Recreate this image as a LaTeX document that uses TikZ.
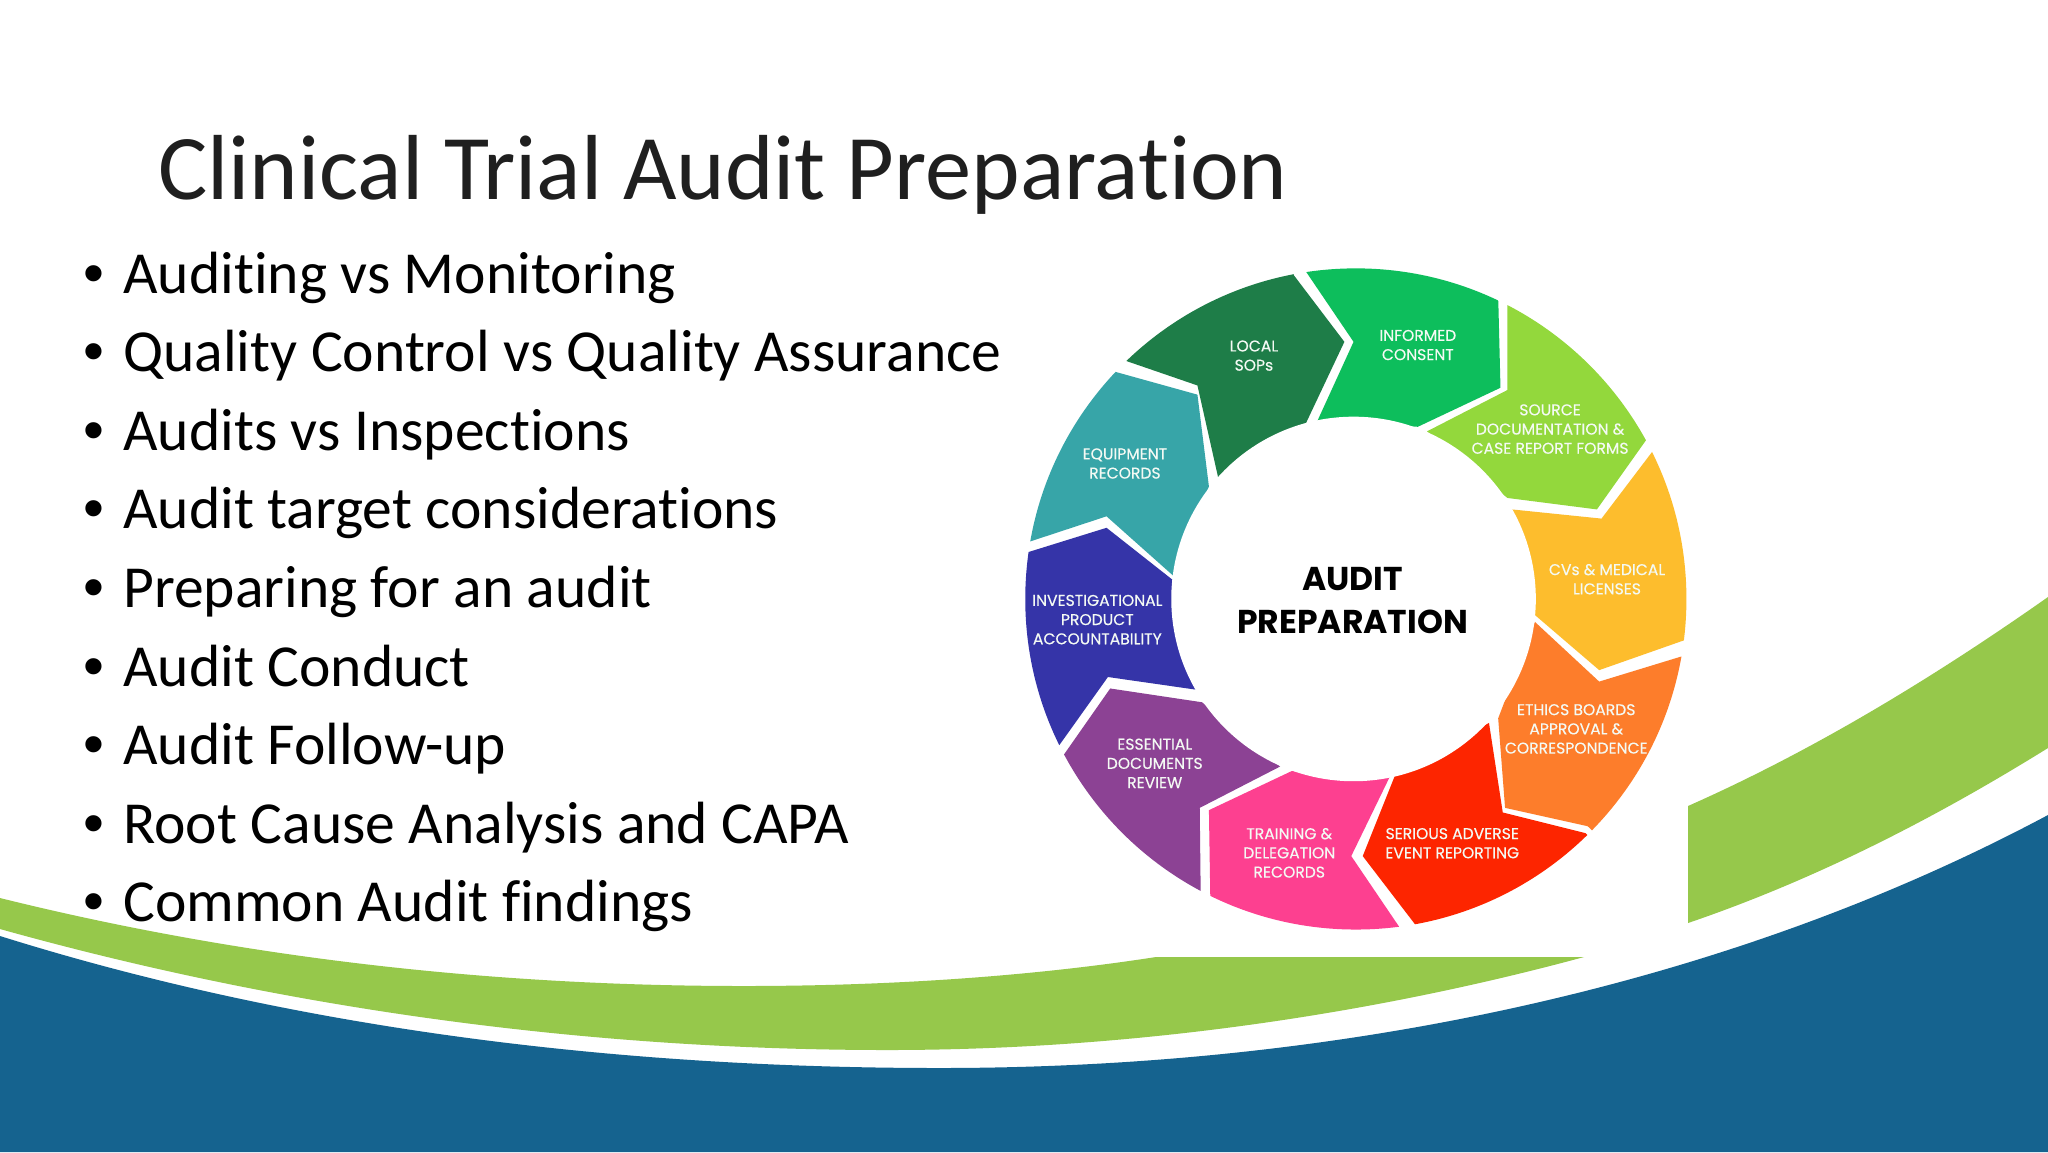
\documentclass[tikz,border=0pt]{standalone}
\usepackage{fontspec}
\setmainfont[Ligatures=NoCommon]{Carlito}
\newfontfamily\ringfont[FakeBold=0.35]{Poppins}
\newfontfamily\hubfont{Poppins}
\newfontfamily\dotfont{Liberation Sans}
\usetikzlibrary{calc}
\definecolor{swblue}{HTML}{15638F}
\definecolor{swgreen}{HTML}{96C84B}
\definecolor{ringtxt}{HTML}{F4FAF4}
\definecolor{c1}{HTML}{0DBE5C}\definecolor{c2}{HTML}{93D83C}\definecolor{c3}{HTML}{FDBD2D}
\definecolor{c4}{HTML}{FD7D2B}\definecolor{c5}{HTML}{FD2500}\definecolor{c6}{HTML}{FD4090}
\definecolor{c7}{HTML}{8C4294}\definecolor{c8}{HTML}{3534A8}\definecolor{c9}{HTML}{37A5A8}
\definecolor{c10}{HTML}{1E7D48}
\tikzset{
  titletext/.style={anchor=base west,inner sep=0pt,font=\fontsize{46.2}{50}\selectfont,text=black!88},
  bullettext/.style={anchor=base west,inner sep=0pt,font=\fontsize{29.8}{32}\selectfont,text=black},
  ringlabel/.style={align=center,inner sep=0pt,text=ringtxt,font=\ringfont\fontsize{7.8}{9.6}\selectfont},
  hublabel/.style={align=center,inner sep=0pt,text=black,font=\hubfont\bfseries\fontsize{16.5}{21.6}\selectfont},
  segment/.style={line join=miter}
}
\newcommand{\bulletline}[3]{\node[bullettext] (#1) at (123,#2) {\llap{{\dotfont •}\hspace{9.3pt}}#3};}
\newcommand{\seg}[7]{\fill[#1,segment] #2 -- #3 -- #4 -- #5 -- #6 -- #7 -- ($(hubo)!1.7!#7$) -- ($(hubo)!1.7!#2$) -- cycle;}
\begin{document}
\begin{tikzpicture}[x=0.5pt,y=-0.5pt]
\useasboundingbox (0,0) rectangle (2048,1152);
\fill[white] (0,0) rectangle (2048,1152);
% blue base
\fill[swblue] (0,936) .. controls (300,1030) and (620,1068) .. (940,1068)
  .. controls (1330,1068) and (1720,990) .. (2048,815) -- (2048,1152) -- (0,1152) -- cycle;
% green swoosh, left part
\fill[swgreen] (0,898) .. controls (250,960) and (500,986) .. (744,986)
  .. controls (900,986) and (1040,975) .. (1156,957) -- (1584,957)
  .. controls (1370,1015) and (1130,1050) .. (888,1050)
  .. controls (590,1050) and (290,1010) .. (0,929) -- cycle;
% green swoosh, right part
\fill[swgreen] (1688,806) .. controls (1810,752) and (1930,680) .. (2048,597) -- (2048,748)
  .. controls (1940,815) and (1820,878) .. (1688,923) -- cycle;
% text
\node[titletext] (title) at (158,199) {Clinical Trial Audit Preparation};
\bulletline{b1}{293}{Auditing vs Monitoring}
\bulletline{b2}{371.6}{Quality Control vs Quality Assurance}
\bulletline{b3}{450.2}{Audits vs Inspections}
\bulletline{b4}{528.8}{Audit target considerations}
\bulletline{b5}{607.4}{Preparing for an audit}
\bulletline{b6}{686}{Audit Conduct}
\bulletline{b7}{764.6}{Audit Follow-up}
\bulletline{b8}{843.2}{Root Cause Analysis and CAPA}
\bulletline{b9}{921.8}{Common Audit findings}
% ring
\begin{scope}[shift={(1000,250)},x=0.22957pt,y=-0.22957pt]
\coordinate (hubo) at (775,760);
\coordinate (hubc) at (770,760);
\begin{scope}
\clip (hubo) circle[radius=720];
\seg{c1}{(665,45)}{(770,200)}{(690,375)}{(910,385)}{(1090,300)}{(1085,100)}
\seg{c2}{(1105,120)}{(1105,305)}{(930,395)}{(1105,540)}{(1300,565)}{(1410,410)}
\seg{c3}{(1420,440)}{(1310,585)}{(1115,565)}{(1165,795)}{(1305,915)}{(1490,850)}
\seg{c4}{(1485,885)}{(1305,940)}{(1165,810)}{(1085,1020)}{(1100,1215)}{(1280,1255)}
\seg{c5}{(1275,1270)}{(1095,1225)}{(1065,1030)}{(860,1145)}{(790,1320)}{(905,1470)}
\seg{c6}{(870,1475)}{(765,1320)}{(850,1145)}{(635,1135)}{(455,1220)}{(458,1410)}
\seg{c7}{(437,1395)}{(435,1215)}{(610,1125)}{(440,985)}{(240,955)}{(135,1105)}
\seg{c8}{(128,1080)}{(235,930)}{(430,958)}{(378,720)}{(232,605)}{(55,660)}
\seg{c9}{(65,635)}{(232,580)}{(378,710)}{(455,515)}{(430,315)}{(250,265)}
\seg{c10}{(270,240)}{(430,295)}{(475,495)}{(665,380)}{(750,200)}{(640,55)}
\end{scope}
\fill[white] (hubc) circle[radius=397];
\node[hublabel] (hub) at (768,763) {AUDIT\\PREPARATION};
\node[ringlabel] (l1) at (910,207) {INFORMED\\CONSENT};
\node[ringlabel] (l2) at (1198,390) {SOURCE\\DOCUMENTATION \&\\CASE REPORT FORMS};
\node[ringlabel] (l3) at (1322,717) {CVs \& MEDICAL\\LICENSES};
\node[ringlabel] (l4) at (1255,1043) {ETHICS BOARDS\\APPROVAL \&\\CORRESPONDENCE};
\node[ringlabel] (l5) at (985,1292) {SERIOUS ADVERSE\\EVENT REPORTING};
\node[ringlabel] (l6) at (630,1313) {TRAINING \&\\DELEGATION\\RECORDS};
\node[ringlabel] (l7) at (337,1118) {ESSENTIAL\\DOCUMENTS\\REVIEW};
\node[ringlabel] (l8) at (212,805) {INVESTIGATIONAL\\PRODUCT\\ACCOUNTABILITY};
\node[ringlabel] (l9) at (272,465) {EQUIPMENT\\RECORDS};
\node[ringlabel] (l10) at (553,230) {LOCAL\\SOPs};
\end{scope}
\end{tikzpicture}
\end{document}
